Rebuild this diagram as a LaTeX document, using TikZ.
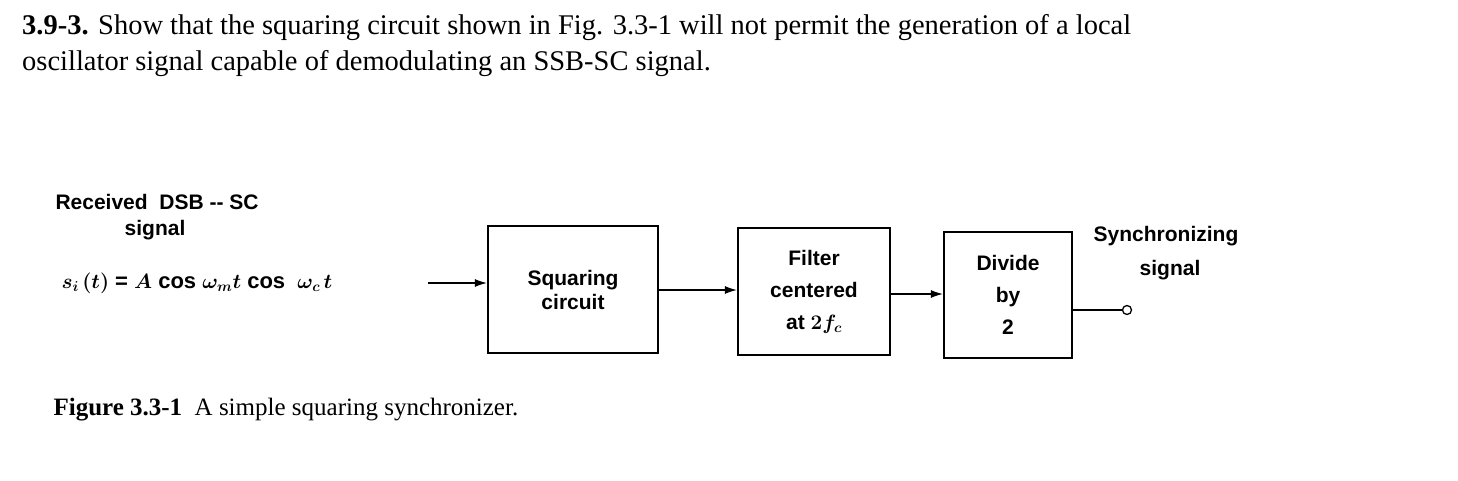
\documentclass[tikz,border=0pt]{standalone}
\usepackage{amsmath}
\usepackage{bm}
\usepackage{fontspec}
\setmainfont{Liberation Serif}
\newfontfamily\dsans{Liberation Sans}
\usetikzlibrary{arrows.meta}
\begin{document}
\begin{tikzpicture}[x=1pt,y=-1pt,
  blk/.style={draw,line width=2.2pt,inner sep=0pt},
  lbl/.style={font=\dsans\bfseries\fontsize{21}{32}\selectfont,align=center},
  conn/.style={line width=1.3pt,-{Latex[length=12pt,width=8pt]}}]
\useasboundingbox (0,0) rectangle (1458,480);
\node[anchor=north west,align=left,font=\fontsize{28.5}{36}\selectfont,inner sep=0pt] (hdr) at (22,14)
 {\textbf{3.9-3.} Show that the squaring circuit shown in Fig. 3.3-1 will not permit the generation of a local\\oscillator signal capable of demodulating an SSB-SC signal.};
\node[blk,minimum width=170,minimum height=127] (sq) at (573,289.5) {};
\node[lbl] at (sq) {Squaring\\[-8pt]circuit};
\node[blk,minimum width=152,minimum height=127] (fi) at (814,291.5) {};
\node[lbl] at (fi) {Filter\\centered\\at $\bm{2f_c}$};
\node[blk,minimum width=128,minimum height=126] (dv) at (1008,295) {};
\node[lbl] at (dv) {Divide\\by\\2};
\node[lbl,anchor=west] (rx) at (52,202) {Received\ \ DSB -- SC};
\node[lbl] (rs) at (155,230) {signal};
\node[lbl,anchor=west,font=\dsans\bfseries\fontsize{22}{26}\selectfont] (eq) at (58,283) {$\bm{s_i\,(t)}$ = $\bm{A}$ cos\ $\bm{\omega_m t}$ cos\ \ $\bm{\omega_c\, t}$};
\coordinate (in) at (428,283);
\draw[conn] (in) -- (sq.west|-in);
\draw[conn] (sq.east|-0,290) -- (fi.west|-0,290);
\draw[conn] (fi.east|-0,294) -- (dv.west|-0,294);
\node[draw,circle,line width=1.3pt,inner sep=0pt,minimum size=9] (out) at (1127,310) {};
\draw[line width=1.3pt] (dv.east|-out) -- (out);
\node[lbl] (sy) at (1166,236) {Synchronizing};
\node[lbl] (ss) at (1170,270) {signal};
\node[anchor=west,font=\fontsize{25}{30}\selectfont] (cap) at (50,410) {\textbf{Figure 3.3-1}\ \ A simple squaring synchronizer.};
\end{tikzpicture}
\end{document}
